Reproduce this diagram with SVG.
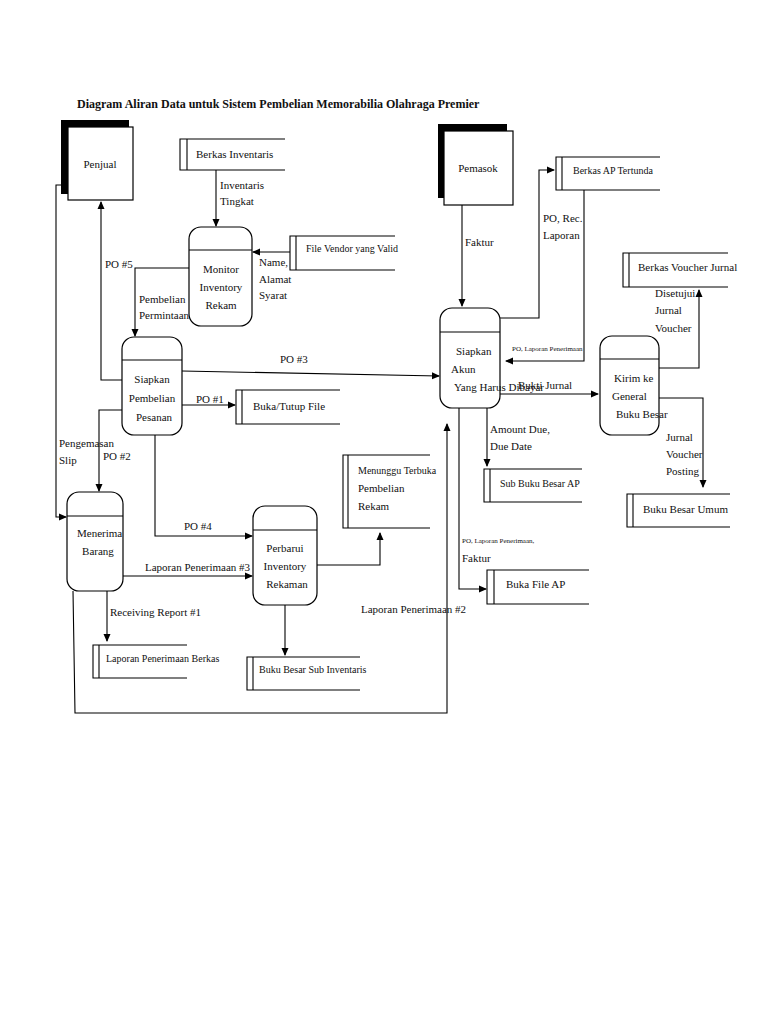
<svg xmlns="http://www.w3.org/2000/svg" width="768" height="1024" viewBox="0 0 768 1024">
<defs>
<marker id="a" markerWidth="8" markerHeight="8" refX="7" refY="4" orient="auto" markerUnits="userSpaceOnUse"><path d="M0,0.5 L8,4 L0,7.5 Z" fill="#000"/></marker>
</defs>
<style>
text{font-family:"Liberation Serif","Times New Roman",serif;font-size:11px;fill:#111}
.c{text-anchor:middle}
.s{font-size:7px}
.t{font-size:12px;font-weight:bold}
.p{fill:#fff;stroke:#000;stroke-width:1.2}
.l{fill:none;stroke:#000;stroke-width:1.1}
.f{fill:none;stroke:#000;stroke-width:1.1}
</style>
<rect width="768" height="1024" fill="#fff"/>
<text class="t" x="77" y="108">Diagram Aliran Data untuk Sistem Pembelian Memorabilia Olahraga Premier</text>

<g id="penjual"><rect x="61" y="120" width="68" height="74" fill="#000"/><rect x="68" y="127" width="65" height="73" class="p"/><text class="c" x="100" y="168">Penjual</text></g>
<g id="pemasok"><rect x="438" y="124" width="69" height="74" fill="#000"/><rect x="444" y="131" width="69" height="74" class="p"/><text class="c" x="478" y="172">Pemasok</text></g>

<g id="monitor"><rect x="189" y="227" width="63" height="99" rx="12" class="p"/><line x1="189" y1="250" x2="252" y2="250" class="l"/><text class="c" x="221" y="273">Monitor</text><text class="c" x="221" y="291">Inventory</text><text class="c" x="221" y="309">Rekam</text></g>
<g id="siapkan-pesanan"><rect x="122" y="337" width="60" height="98" rx="12" class="p"/><line x1="122" y1="360" x2="182" y2="360" class="l"/><text class="c" x="152" y="383">Siapkan</text><text class="c" x="152" y="402">Pembelian</text><text class="c" x="154" y="421">Pesanan</text></g>
<g id="menerima"><rect x="67" y="492" width="56" height="99" rx="12" class="p"/><line x1="67" y1="516" x2="123" y2="516" class="l"/><text x="77" y="537">Menerima</text><text class="c" x="98" y="555">Barang</text></g>
<g id="perbarui"><rect x="253" y="506" width="64" height="99" rx="12" class="p"/><line x1="253" y1="530" x2="317" y2="530" class="l"/><text class="c" x="285" y="552">Perbarui</text><text class="c" x="285" y="570">Inventory</text><text class="c" x="287" y="588">Rekaman</text></g>
<g id="siapkan-akun"><rect x="440" y="308" width="60" height="100" rx="12" class="p"/><line x1="440" y1="332" x2="500" y2="332" class="l"/><text x="456" y="355">Siapkan</text><text x="451" y="373">Akun</text><text x="454" y="391">Yang Harus Dibayar</text></g>
<g id="kirim"><rect x="600" y="336" width="59" height="99" rx="12" class="p"/><line x1="600" y1="359" x2="659" y2="359" class="l"/><text x="614" y="382">Kirim ke</text><text x="612" y="400">General</text><text x="616" y="418">Buku Besar</text></g>

<g id="st-berkas-inv"><path d="M285,139 H180 V170 H285 M187,139 V170" class="f"/><text x="196" y="158">Berkas Inventaris</text></g>
<g id="st-vendor"><path d="M395,236 H290 V270 H395 M296,236 V270" class="f"/><text x="306" y="252" style="font-size:10px">File Vendor yang Valid</text></g>
<g id="st-buka-tutup"><path d="M340,390 H236 V424 H340 M242,390 V424" class="f"/><text x="253" y="410">Buka/Tutup File</text></g>
<g id="st-menunggu"><path d="M430,455 H343 V528 H430 M348,455 V528" class="f"/><text x="358" y="474" style="font-size:10px">Menunggu Terbuka</text><text x="358" y="492">Pembelian</text><text x="358" y="510">Rekam</text></g>
<g id="st-buku-sub-inv"><path d="M360,657 H247 V690 H360 M253,657 V690" class="f"/><text x="259" y="673" style="font-size:10px">Buku Besar Sub Inventaris</text></g>
<g id="st-laporan-berkas"><path d="M187,645 H93 V678 H187 M99,645 V678" class="f"/><text x="106" y="662" style="font-size:10px">Laporan Penerimaan Berkas</text></g>
<g id="st-ap-tertunda"><path d="M660,157 H556 V190 H660 M562,157 V190" class="f"/><text x="573" y="174" style="font-size:10px">Berkas AP Tertunda</text></g>
<g id="st-voucher"><path d="M728,253 H623 V287 H728 M629,253 V287" class="f"/><text x="638" y="271">Berkas Voucher Jurnal</text></g>
<g id="st-sub-ap"><path d="M582,469 H484 V502 H582 M490,469 V502" class="f"/><text x="500" y="487" style="font-size:10px">Sub Buku Besar AP</text></g>
<g id="st-buku-umum"><path d="M730,494 H627 V527 H730 M633,494 V527" class="f"/><text x="643" y="513">Buku Besar Umum</text></g>
<g id="st-buka-ap"><path d="M589,570 H487 V604 H589 M494,570 V604" class="f"/><text x="506" y="588">Buka File AP</text></g>

<g id="connectors" class="l">
<polyline points="68,185 56,185 56,517 66,517" class="l" marker-end="url(#a)"/>
<polyline points="216,170 216,226" class="l" marker-end="url(#a)"/>
<polyline points="290,252 253,252" class="l" marker-end="url(#a)"/>
<polyline points="189,268 135,268 135,336" class="l" marker-end="url(#a)"/>
<polyline points="122,380 101,380 101,202" class="l" marker-end="url(#a)"/>
<polyline points="182,371 439,376" class="l" marker-end="url(#a)"/>
<polyline points="182,405 235,405" class="l" marker-end="url(#a)"/>
<polyline points="122,410 99,410 99,491" class="l" marker-end="url(#a)"/>
<polyline points="155,435 155,536 252,536" class="l" marker-end="url(#a)"/>
<polyline points="123,576 252,576" class="l" marker-end="url(#a)"/>
<polyline points="317,565 357,565 357,565 380,565 380,533" class="l" marker-end="url(#a)"/>
<polyline points="285,605 285,655" class="l" marker-end="url(#a)"/>
<polyline points="107,591 107,641" class="l" marker-end="url(#a)"/>
<polyline points="73,591 75,713 447,713 447,424" class="l" marker-end="url(#a)"/>
<polyline points="462,205 462,306" class="l" marker-end="url(#a)"/>
<polyline points="500,318 539,318 539,170 554,170" class="l" marker-end="url(#a)"/>
<polyline points="584,190 584,361 506,361" class="l" marker-end="url(#a)"/>
<polyline points="500,394 598,394" class="l" marker-end="url(#a)"/>
<polyline points="659,368 699,368 699,290" class="l" marker-end="url(#a)"/>
<polyline points="659,398 703,398 703,487" class="l" marker-end="url(#a)"/>
<polyline points="487,408 487,466" class="l" marker-end="url(#a)"/>
<polyline points="459,408 459,589 486,589" class="l" marker-end="url(#a)"/>
</g>

<g id="labels">
<text x="220" y="189">Inventaris</text><text x="220" y="205">Tingkat</text>
<text x="259" y="266">Name,</text><text x="259" y="283">Alamat</text><text x="259" y="299">Syarat</text>
<text x="105" y="268">PO #5</text>
<text x="139" y="303">Pembelian</text><text x="139" y="319">Permintaan</text>
<text x="280" y="363">PO #3</text>
<text x="196" y="403">PO #1</text>
<text x="59" y="447">Pengemasan</text><text x="59" y="464">Slip</text>
<text x="103" y="460">PO #2</text>
<text x="184" y="530">PO #4</text>
<text x="145" y="571">Laporan Penerimaan #3</text>
<text x="110" y="616">Receiving Report #1</text>
<text x="361" y="613">Laporan Penerimaan #2</text>
<text x="465" y="246">Faktur</text>
<text x="543" y="222">PO, Rec.</text><text x="543" y="239">Laporan</text>
<text class="s" x="512" y="351">PO, Laporan Penerimaan</text>
<text x="518" y="389">Bukti Jurnal</text>
<text x="655" y="297">Disetujui</text><text x="655" y="314">Jurnal</text><text x="655" y="332">Voucher</text>
<text x="666" y="441">Jurnal</text><text x="666" y="458">Voucher</text><text x="666" y="475">Posting</text>
<text x="490" y="433">Amount Due,</text><text x="490" y="450">Due Date</text>
<text class="s" x="462" y="543">PO, Laporan Penerimaan,</text><text x="462" y="562">Faktur</text>
</g>
</svg>
